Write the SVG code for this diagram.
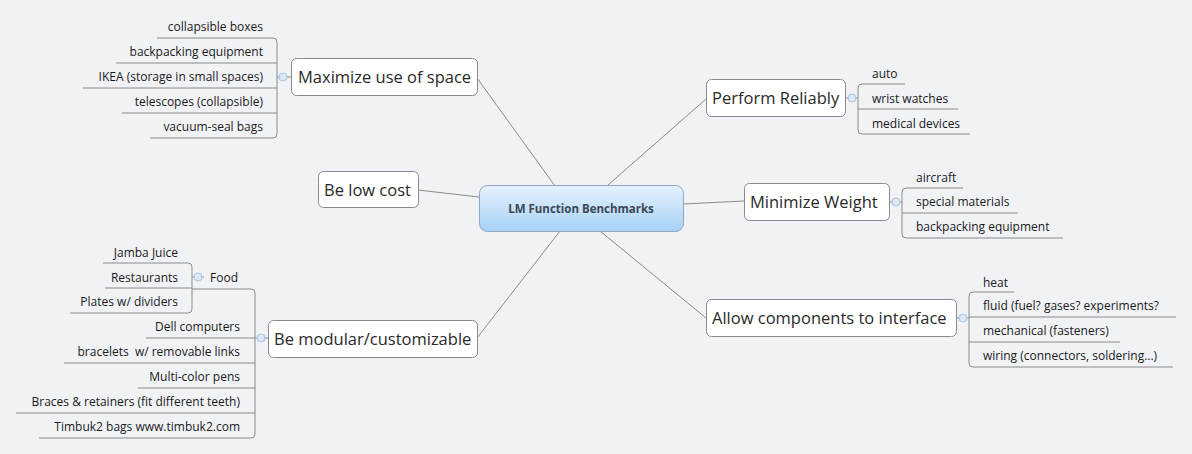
<svg xmlns="http://www.w3.org/2000/svg" width="1192" height="454" viewBox="0 0 1192 454">
<style>
.bg{fill:#f1f2f6}
.topic{fill:#fff;stroke:#8a8a8a;stroke-width:1}
.tt{font-family:"Open Sans","DejaVu Sans",sans-serif;font-size:16.5px;fill:#2a2a2a;dominant-baseline:central}
.st{font-family:"Open Sans","DejaVu Sans",sans-serif;font-size:12px;fill:#1a1a1a;dominant-baseline:central}
.r{text-anchor:end}
.ln{fill:none;stroke:#8a8a8a;stroke-width:1}
.col{fill:#dbe8f7;stroke:#a9c3e3;stroke-width:1}
</style>
<defs>
<linearGradient id="cg" x1="0" y1="0" x2="0" y2="1">
<stop offset="0" stop-color="#e6f2fd"/>
<stop offset="1" stop-color="#a6d1f6"/>
</linearGradient>
</defs>
<rect class="bg" width="1192" height="454"/>
<g id="connectors">
<path class="ln" d="M555 186 L477 78"/>
<path class="ln" d="M479 197 L418 190"/>
<path class="ln" d="M560 231 L477 338"/>
<path class="ln" d="M608 185 L706 99"/>
<path class="ln" d="M683 204 L744 201"/>
<path class="ln" d="M600 231 L706 318"/>
<!-- left: maximize -->
<path class="ln" d="M291 77 H277"/>
<path class="ln" d="M157 38 H273 Q277 38 277 42 V134 Q277 138 273 138 H150"/>
<path class="ln" d="M116 63 H277 M83 88 H277 M122 113 H277"/>
<!-- food -->
<path class="ln" d="M103 263 H188 Q192 263 192 267 V309 Q192 313 188 313 H70"/>
<path class="ln" d="M105 288 H192 M192 277 H204"/>
<!-- modular -->
<path class="ln" d="M268 338 H255"/>
<path class="ln" d="M192 289 H251 Q255 289 255 293 V434 Q255 438 251 438 H39"/>
<path class="ln" d="M146 338 H255 M64 363 H255 M138 388 H255 M16 413 H255"/>
<!-- perform -->
<path class="ln" d="M845 98 H858"/>
<path class="ln" d="M905 84 H862 Q858 84 858 88 V130 Q858 134 862 134 H970"/>
<path class="ln" d="M858 109 H958"/>
<!-- weight -->
<path class="ln" d="M889 202 H902"/>
<path class="ln" d="M963 188 H906 Q902 188 902 192 V234 Q902 238 906 238 H1063"/>
<path class="ln" d="M902 213 H1018"/>
<!-- allow -->
<path class="ln" d="M956 318 H969"/>
<path class="ln" d="M1014 292 H973 Q969 292 969 296 V363 Q969 367 973 367 H1173"/>
<path class="ln" d="M969 317 H1176 M969 342 H1120"/>
<circle class="col" cx="283" cy="77" r="4"/>
<circle class="col" cx="198" cy="277" r="4"/>
<circle class="col" cx="261" cy="338" r="4"/>
<circle class="col" cx="852" cy="98" r="4"/>
<circle class="col" cx="896" cy="202" r="4"/>
<circle class="col" cx="963" cy="318" r="4"/>
</g>
<g id="central">
<rect x="479.5" y="185.5" width="204" height="46" rx="8" fill="url(#cg)" stroke="#8fa6bf"/>
<text x="581" y="208" text-anchor="middle" style="font-family:'Open Sans','DejaVu Sans',sans-serif;font-size:11.5px;font-weight:bold;fill:#3b4756;dominant-baseline:central">LM Function Benchmarks</text>
</g>
<g id="maximize">
<rect class="topic" x="291.5" y="58.5" width="186" height="37" rx="5"/>
<text class="tt" x="298" y="76">Maximize use of space</text>
<text class="st r" x="263" y="26">collapsible boxes</text>
<text class="st r" x="263" y="51">backpacking equipment</text>
<text class="st r" x="263" y="76">IKEA (storage in small spaces)</text>
<text class="st r" x="263" y="101">telescopes (collapsible)</text>
<text class="st r" x="263" y="126">vacuum-seal bags</text>
</g>
<g id="lowcost">
<rect class="topic" x="318.5" y="171.5" width="100" height="36" rx="5"/>
<text class="tt" x="324" y="189">Be low cost</text>
</g>
<g id="modular">
<rect class="topic" x="268.5" y="320.5" width="209" height="37" rx="5"/>
<text class="tt" x="274" y="338">Be modular/customizable</text>
<text class="st" x="210" y="277">Food</text>
<text class="st r" x="178" y="252">Jamba Juice</text>
<text class="st r" x="178" y="277">Restaurants</text>
<text class="st r" x="178" y="301">Plates w/ dividers</text>
<text class="st r" x="240" y="326">Dell computers</text>
<text class="st r" x="240" y="351" style="white-space:pre">bracelets  w/ removable links</text>
<text class="st r" x="240" y="376">Multi-color pens</text>
<text class="st r" x="240" y="401">Braces &amp; retainers (fit different teeth)</text>
<text class="st r" x="240" y="426">Timbuk2 bags www.timbuk2.com</text>
</g>
<g id="perform">
<rect class="topic" x="706.5" y="79.5" width="139" height="37" rx="5"/>
<text class="tt" x="712" y="97">Perform Reliably</text>
<text class="st" x="872" y="73">auto</text>
<text class="st" x="872" y="98">wrist watches</text>
<text class="st" x="872" y="123">medical devices</text>
</g>
<g id="weight">
<rect class="topic" x="744.5" y="183.5" width="145" height="37" rx="5"/>
<text class="tt" x="750" y="201">Minimize Weight</text>
<text class="st" x="916" y="177">aircraft</text>
<text class="st" x="916" y="201">special materials</text>
<text class="st" x="916" y="226">backpacking equipment</text>
</g>
<g id="allow">
<rect class="topic" x="706.5" y="299.5" width="250" height="37" rx="5"/>
<text class="tt" x="712" y="317">Allow components to interface</text>
<text class="st" x="983" y="282">heat</text>
<text class="st" x="983" y="305">fluid (fuel? gases? experiments?</text>
<text class="st" x="983" y="330">mechanical (fasteners)</text>
<text class="st" x="983" y="355">wiring (connectors, soldering...)</text>
</g>
</svg>
